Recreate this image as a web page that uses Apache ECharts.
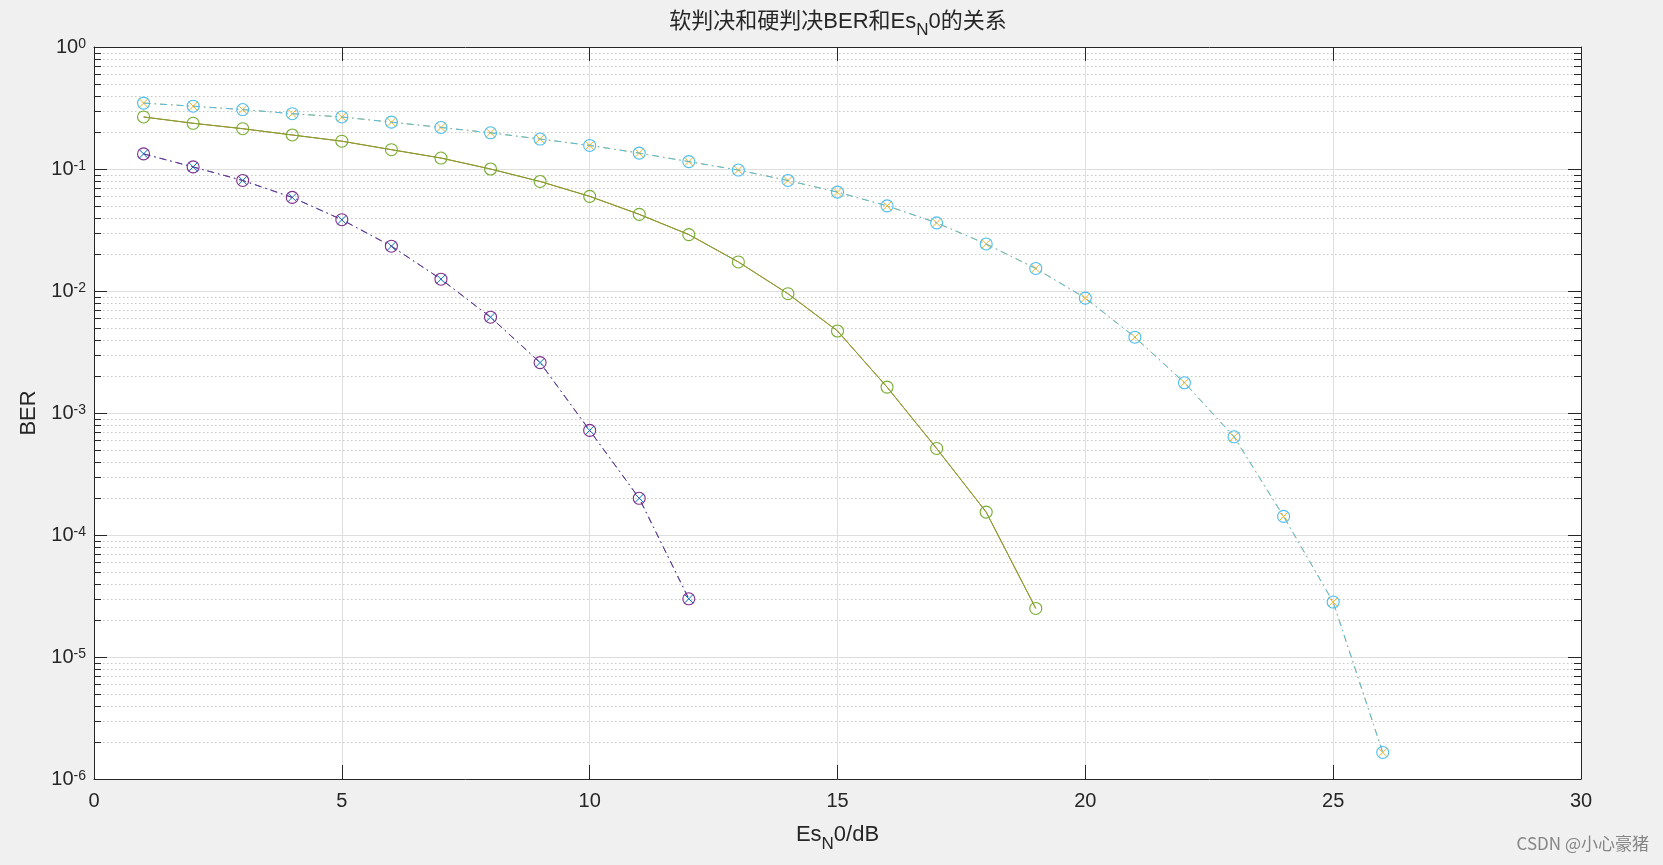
<!DOCTYPE html>
<html><head><meta charset="utf-8">
<script src="https://cdn.jsdelivr.net/npm/echarts@6/dist/echarts.min.js"></script>
<style>html,body{margin:0;padding:0;background:#f0f0f0;}#c{width:1663px;height:865px;}</style>
</head><body><div id="c"></div>
<script>
// ---- data ----
const esn0 = [1,2,3,4,5,6,7,8,9,10,11,12,13,14,15,16,17,18,19,20,21,22,23,24,25,26];
const berPurple = [0.133,0.104,0.0805,0.0585,0.0384,0.0233,0.0125,0.0061,0.00259,0.00072,0.0002,3.0e-5];
const berGreen = [0.267,0.237,0.214,0.19,0.169,0.144,0.123,0.100,0.079,0.0597,0.0425,0.029,0.0173,0.0095,0.0047,0.00163,0.000512,0.000154,2.5e-5];
const berCyan = [0.347,0.327,0.307,0.284,0.267,0.242,0.219,0.198,0.176,0.156,0.135,0.115,0.098,0.0805,0.0646,0.0499,0.0362,0.0243,0.0153,0.00875,0.00418,0.00177,0.000638,0.000142,2.82e-5,1.65e-6];
const xTicks = [0,5,10,15,20,25,30];
const yMinExp = -6, yMaxExp = 0;

const FONT = '"Liberation Sans", Arial, "Noto Sans CJK SC", sans-serif';
const AX = '#262626';
const pairs = (vals) => vals.map((v, i) => [esn0[i], v]);
const minorVals = [];
for (let e = yMinExp; e < yMaxExp; e++) for (let m = 2; m <= 9; m++) minorVals.push([0, m * Math.pow(10, e)]);

const DASHDOT = [7, 4, 1.5, 4];
const XSYM = 'path://M0 0L10 10M10 0L0 10';

function xSeries(name, vals, color, dashed) {
  return { name, type: 'line', data: pairs(vals), symbol: XSYM, symbolSize: 9,
    itemStyle: { color: 'rgba(0,0,0,0)', borderColor: color, borderWidth: 1 },
    lineStyle: { color, width: 1, type: dashed ? DASHDOT : 'solid' }, z: 3, animation: false };
}
function circSeries(name, vals, color, dashed) {
  return { name, type: 'line', data: pairs(vals), symbol: 'circle', symbolSize: 12,
    itemStyle: { color: 'rgba(0,0,0,0)', borderColor: color, borderWidth: 1.1 },
    lineStyle: { color, width: 1, type: dashed ? DASHDOT : 'solid' }, z: 4, animation: false };
}
function lineOnly(name, vals, color) {
  return { name, type: 'line', data: pairs(vals), symbol: 'none',
    lineStyle: { color, width: 1, type: 'solid' }, z: 3, animation: false };
}

const chart = echarts.init(document.getElementById('c'), null, { renderer: 'canvas' });
const supRich = {
  b: { fontSize: 20, lineHeight: 20, verticalAlign: 'bottom', color: AX, fontFamily: FONT },
  s: { fontSize: 14, lineHeight: 14, verticalAlign: 'top', padding: [0, 0, 11, 0], color: AX, fontFamily: FONT }
};
const yLabel = {
  show: true, margin: 8, fontFamily: FONT,
  formatter: v => '{b|10}{s|' + Math.round(Math.log10(v)) + '}',
  rich: supRich
};
function subRich(big, small, drop) {
  return {
    t: { fontSize: big, lineHeight: big, verticalAlign: 'top', fontWeight: 'normal', color: AX, fontFamily: FONT },
    sub: { fontSize: small, lineHeight: small, verticalAlign: 'top', padding: [drop, 0, 0, 0], fontWeight: 'normal', color: AX, fontFamily: FONT }
  };
}

chart.setOption({
  backgroundColor: '#f0f0f0',
  animation: false,
  title: {
    text: '{t|软判决和硬判决BER和Es}{sub|N}{t|0的关系}',
    left: 833, top: 6, textAlign: 'center',
    textStyle: { fontWeight: 'normal', rich: subRich(22, 17, 11) }
  },
  grid: { left: 94, top: 47, width: 1487, height: 732, show: true, backgroundColor: '#ffffff', borderWidth: 0 },
  xAxis: [
    { type: 'value', min: xTicks[0], max: xTicks[xTicks.length - 1], interval: 5, position: 'bottom',
      axisLine: { show: true, onZero: false, lineStyle: { color: AX, width: 1 } },
      axisTick: { show: true, inside: true, length: 14, lineStyle: { color: AX } },
      axisLabel: { show: true, fontSize: 20, color: AX, fontFamily: FONT, margin: 12 },
      splitLine: { show: true, lineStyle: { color: '#dedede', width: 1 } },
      name: '{t|Es}{sub|N}{t|0/dB}', nameLocation: 'middle', nameGap: 45,
      nameTextStyle: { rich: subRich(22, 17, 12) } },
    { type: 'value', min: xTicks[0], max: xTicks[xTicks.length - 1], interval: 5, position: 'top',
      axisLine: { show: true, onZero: false, lineStyle: { color: AX, width: 1 } },
      axisTick: { show: true, inside: true, length: 14, lineStyle: { color: AX } },
      axisLabel: { show: false }, splitLine: { show: false } }
  ],
  yAxis: [
    { type: 'log', logBase: 10, min: Math.pow(10, yMinExp), max: Math.pow(10, yMaxExp), interval: 1, position: 'left',
      axisLine: { show: true, onZero: false, lineStyle: { color: AX, width: 1 } },
      axisTick: { show: true, inside: true, length: 13, lineStyle: { color: AX } },
      axisLabel: yLabel,
      splitLine: { show: true, lineStyle: { color: '#dedede', width: 1 } },
      name: 'BER', nameLocation: 'middle', nameGap: 53, nameRotate: 90,
      nameTextStyle: { fontSize: 22, color: AX, fontFamily: FONT } },
    { type: 'log', logBase: 10, min: Math.pow(10, yMinExp), max: Math.pow(10, yMaxExp), interval: 1, position: 'right',
      axisLine: { show: true, onZero: false, lineStyle: { color: AX, width: 1 } },
      axisTick: { show: true, inside: true, length: 13, lineStyle: { color: AX } },
      axisLabel: { show: false }, splitLine: { show: false } }
  ],
  series: [
    { type: 'custom', name: 'minor', coordinateSystem: 'cartesian2d', xAxisIndex: 0, yAxisIndex: 0,
      data: minorVals, encode: { x: 0, y: 1 }, silent: true, z: 1, clip: false,
      renderItem: function (params, api) {
        const v = api.value(1);
        const a = api.coord([xTicks[0], v]);
        const b = api.coord([xTicks[xTicks.length - 1], v]);
        const y = Math.round(a[1]) + 0.5;
        return { type: 'group', children: [
          { type: 'line', shape: { x1: a[0] + 1, y1: y, x2: b[0] - 7, y2: y }, style: { stroke: '#c6c6c6', lineWidth: 1, lineDash: [1.5, 2.5] } },
          { type: 'line', shape: { x1: a[0], y1: y, x2: a[0] + 7, y2: y }, style: { stroke: AX, lineWidth: 1 } },
          { type: 'line', shape: { x1: b[0] - 7, y1: y, x2: b[0], y2: y }, style: { stroke: AX, lineWidth: 1 } }
        ] };
      } },
    xSeries('A-x', berPurple, '#0072BD', true),
    lineOnly('B-line', berGreen, '#D95319'),
    xSeries('C-x', berCyan, '#EDB120', true),
    circSeries('A-o', berPurple, '#7E2F8E', true),
    circSeries('B-o', berGreen, '#77AC30', false),
    circSeries('C-o', berCyan, '#4DBEEE', true)
  ],
  graphic: [
    { type: 'text', right: 14, top: 835, style: { text: 'CSDN @小心豪猪', fontSize: 17, fill: '#858585', fontFamily: '"Noto Sans CJK SC", sans-serif' } }
  ]
});
</script></body></html>
